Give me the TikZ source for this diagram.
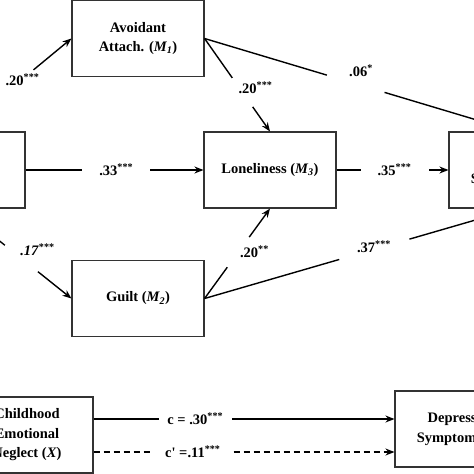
\documentclass[tikz,border=0pt]{standalone}
\usepackage{fontspec}
\setmainfont{Liberation Serif}
\usetikzlibrary{arrows.meta}
\usetikzlibrary{calc}
\newcommand{\figfont}{\bfseries\fontsize{14.5}{19.5}\selectfont}
\tikzset{box/.style = {draw = black!80, line width = 1.1pt, minimum width = 132pt, minimum height = 76pt, align = center, inner sep = 0, font = \figfont}}
\tikzset{link/.style = {draw, line width = 1.4pt, ->}}
\tikzset{coef/.style = {fill = white, inner sep = 1pt, font = \figfont}}
\tikzset{gap/.style = {fill = white, sloped, inner sep = 0, minimum height = 5pt}}

\begin{document}
\begin{tikzpicture}[x=1pt, y=-1pt, >={Stealth[length=9pt, width=7pt]}]
\useasboundingbox (0, 0) rectangle (474, 474);
\clip (0, 0) rectangle (474, 474);

      % mediated model
      \node [box] (M1) at (138, 38.5) {Avoidant\\Attach. (\textit{M\textsubscript{1}})};
      \node [box] (X) at (-41, 170) {};
      \node [box] (M3) at (270, 170) {Loneliness (\textit{M\textsubscript{3}})};
      \node [box] (Y) at (515, 170) {Depressive\\Symptoms (\textit{Y})};
      \node [box] (M2) at (138, 298.5) {Guilt (\textit{M\textsubscript{2}})};

      \draw [link] (X.north) -- node [gap, pos=0.48, minimum width=53pt] (g1) {} (M1.west);
      \node [coef] (c20a) at (22.5, 80) {.20\textsuperscript{***}};
      \draw [link] (M1.east) -- node [gap, pos=0.58, minimum width=35pt] (g2) {} (M3.north);
      \node [coef] (c20b) at (255.5, 88) {.20\textsuperscript{***}};
      \draw [link] (M1.east) -- node [gap, pos=0.487, minimum width=60pt] (g3) {} (Y.north);
      \node [coef] (c06) at (361, 71) {.06\textsuperscript{*}};

      \draw [link] (X.east) -- node [coef, pos=0.51, minimum width=68pt] (c33) {.33\textsuperscript{***}} (M3.west);
      \draw [link] (M3.east) -- node [coef, pos=0.518, minimum width=68pt] (c35) {.35\textsuperscript{***}} (Y.west);

      \draw [link] (X.south) -- node [gap, pos=0.555, minimum width=42pt] (g4) {} (M2.west);
      \node [coef] (c17) at (37.5, 250) {\textit{.17}\textsuperscript{***}};
      \draw [link] (M2.east) -- node [gap, pos=0.515, minimum width=37pt] (g5) {} (M3.south);
      \node [coef] (c20c) at (254.5, 252) {.20\textsuperscript{**}};
      \draw [link] (M2.east) -- node [gap, pos=0.547, minimum width=73pt] (g6) {} (Y.south);
      \node [coef] (c37) at (374, 247) {.37\textsuperscript{***}};

      % total and direct effect
      \node [box] (Xt) at (27, 435) {Childhood\\Emotional\\Neglect (\textit{X})};
      \node [box] (Yt) at (461, 429) {Depressive\\Symptoms (\textit{Y})};
      \coordinate (s30) at ([yshift=16pt]Xt.east);
      \coordinate (s11) at ([yshift=-17pt]Xt.east);
      \draw [link] (s30) -- node [coef, pos=0.338, minimum width=73pt] (c30) {c = .30\textsuperscript{***}} (s30 -| Yt.west);
      \draw [link, dash pattern=on 6pt off 4pt] (s11) -- node [coef, pos=0.33, minimum width=79pt] (c11) {c\textquotesingle{} =.11\textsuperscript{***}} (s11 -| Yt.west);
    \end{tikzpicture}
\end{document}
